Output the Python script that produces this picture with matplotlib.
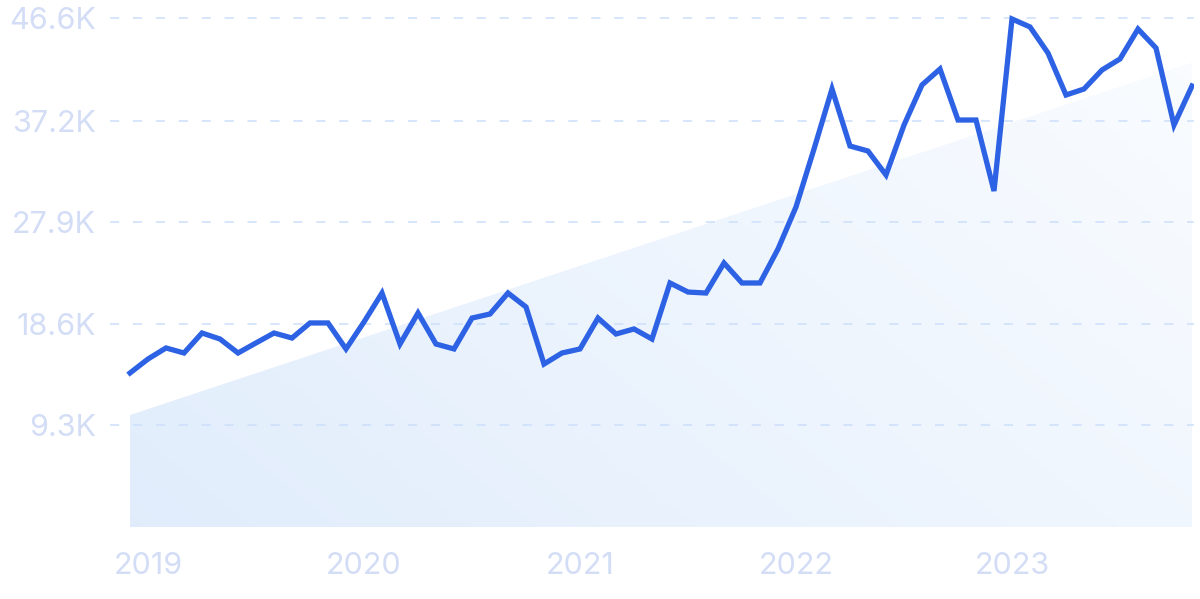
import numpy as np
import matplotlib
matplotlib.use('Agg')
import matplotlib.pyplot as plt

# monthly values in thousands, Dec 2018 .. Nov 2023
values = [14.10, 15.38, 16.39, 15.93, 17.76, 17.21, 15.93, 16.85, 17.76, 17.30,
          18.68, 18.68, 16.30, 18.77, 21.42, 16.75, 19.59, 16.75, 16.30, 19.13,
          19.50, 21.42, 20.14, 14.92, 15.93, 16.30, 19.13, 17.67, 18.13, 17.21,
          22.34, 21.51, 21.42, 24.17, 22.34, 22.34, 25.45, 29.30, 34.60, 40.10,
          34.88, 34.42, 32.23, 36.80, 40.47, 41.93, 37.26, 37.26, 30.76, 46.51,
          45.78, 43.39, 39.55, 40.10, 41.84, 42.85, 45.59, 43.85, 36.80, 40.37]
trend_ends = [10.25, 42.5]

year_pos = [1, 13, 25, 37, 49]
year_labels = ['2019', '2020', '2021', '2022', '2023']
ytick_vals = [9.3, 18.6, 27.9, 37.2, 46.6]
ytick_labels = ['9.3K', '18.6K', '27.9K', '37.2K', '46.6K']

line_color = '#2d62e4'
label_color = '#d3ddf6'
grid_color = '#cddffb'

plt.rcParams['font.family'] = ['Inter', 'DejaVu Sans']

fig = plt.figure(figsize=(12, 5.99), dpi=100)
ax = fig.add_axes([110 / 1200, 72 / 599, 1084 / 1200, 524.3 / 599])

x = np.arange(len(values))
xmax = len(values) - 1
ax.set_xlim(-20 / 18, xmax + 2 / 18)
ax.set_ylim(0, 48)

# trend area with soft diagonal gradient
trend = np.interp(x, [0, xmax], trend_ends)
poly = ax.fill_between(x, 0, trend, color='none', lw=0)
gx, gy = np.meshgrid(np.linspace(0, 1, 300), np.linspace(0, 1, 150))
g = np.clip(0.65 * gx + 0.35 * (1 - gy), 0, 1)
c0 = np.array([0.882, 0.929, 0.988])
c1 = np.array([0.978, 0.988, 1.0])
img = c0[None, None, :] * (1 - g[..., None]) + c1[None, None, :] * g[..., None]
im = ax.imshow(img, extent=[0, xmax, 0, trend_ends[1]], origin='upper',
               aspect='auto', zorder=1, interpolation='bilinear')
path = poly.get_paths()[0]
im.set_clip_path(path, transform=ax.transData)

for v in ytick_vals:
    ax.axhline(v, color=grid_color, lw=1.1, ls=(0, (6, 9)), zorder=2, clip_on=False)

ax.plot(x, values, color=line_color, lw=3.8, solid_joinstyle='miter', zorder=3)

ax.set_xticks(year_pos)
ax.set_xticklabels(year_labels)
ax.set_yticks(ytick_vals)
ax.set_yticklabels(ytick_labels)
ax.tick_params(axis='both', length=0, colors=label_color, labelsize=22)
ax.tick_params(axis='x', pad=18)
ax.tick_params(axis='y', pad=10)
for s in ax.spines.values():
    s.set_visible(False)
ax.set_facecolor('white')

fig.savefig('out.png', dpi=100)
